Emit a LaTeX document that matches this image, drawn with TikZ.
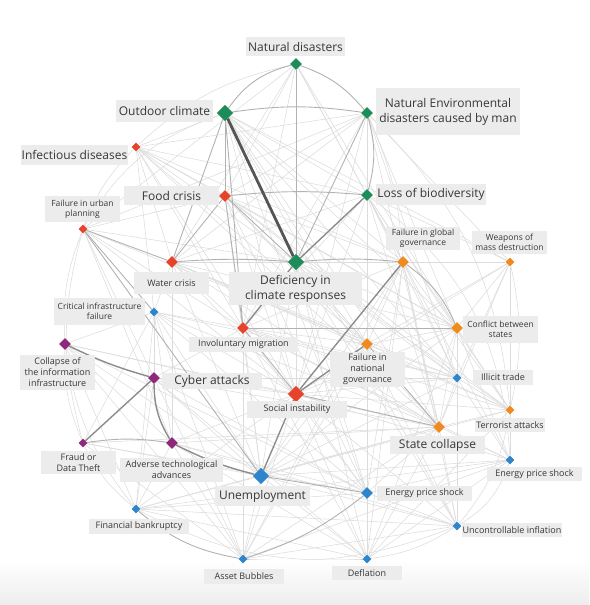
\documentclass[tikz,border=0pt]{standalone}
\usepackage{fontspec}
\setmainfont{Open Sans}
\usepackage{xcolor}
\usetikzlibrary{shapes.geometric}
\definecolor{rgreen}{RGB}{28,140,88}
\definecolor{rred}{RGB}{231,67,42}
\definecolor{rorange}{RGB}{239,138,30}
\definecolor{rblue}{RGB}{46,133,204}
\definecolor{rpurple}{RGB}{142,40,125}
\definecolor{tagbg}{RGB}{236,236,236}
\definecolor{tagtxt}{RGB}{55,55,55}
\definecolor{edgeA}{RGB}{220,220,220}
\definecolor{edgeB}{RGB}{178,178,178}
\definecolor{edgeC}{RGB}{140,140,140}
\definecolor{edgeD}{RGB}{85,85,85}
\pgfdeclarelayer{bg}
\pgfsetlayers{bg,main}

\begin{document}
\begin{tikzpicture}[x=1pt, y=-1pt,
  risk/.style={diamond, fill=#1, inner sep=0pt, aspect=1, minimum size=12pt},
  bigrisk/.style={minimum size=16.5pt}, smallrisk/.style={minimum size=9pt},
  tag/.style={fill=tagbg, text=tagtxt, inner sep=0pt, align=center},
  tagL/.style={tag, font=\fontsize{12}{15}\selectfont},
  tagM/.style={tag, font=\fontsize{9}{11}\selectfont},
  tagS/.style={tag, font=\fontsize{8.5}{10}\selectfont},
  lite/.style={draw=edgeA, line width=0.55pt},
  midline/.style={draw=edgeB, line width=0.9pt},
  firm/.style={draw=edgeC, line width=1.4pt},
  heavy/.style={draw=edgeD, line width=2.8pt}]
  \useasboundingbox (0,0) rectangle (589,605);
  \shade[top color=white, bottom color=black!7] (0,560) rectangle (589,605);

  \node[risk=rgreen] (nd) at (296,64) {};
  \node[risk=rgreen, bigrisk] (oc) at (225,113) {};
  \node[risk=rgreen] (ned) at (367,113) {};
  \node[risk=rred, smallrisk] (inf) at (136,147) {};
  \node[risk=rred] (food) at (225,196) {};
  \node[risk=rgreen] (lob) at (367,195) {};
  \node[risk=rred, smallrisk] (urb) at (83,229) {};
  \node[risk=rred] (wat) at (172,262) {};
  \node[risk=rgreen, bigrisk] (dcr) at (296,262) {};
  \node[risk=rorange] (fgg) at (403,262) {};
  \node[risk=rorange, smallrisk] (wmd) at (510,262) {};
  \node[risk=rblue, smallrisk] (cif) at (154,312) {};
  \node[risk=rred] (mig) at (243,328) {};
  \node[risk=rorange] (cbs) at (457,328) {};
  \node[risk=rorange] (fng) at (367,344) {};
  \node[risk=rpurple] (coll) at (65,344) {};
  \node[risk=rpurple] (cyb) at (154,378) {};
  \node[risk=rblue, smallrisk] (ill) at (457,378) {};
  \node[risk=rred, bigrisk] (soc) at (296,394) {};
  \node[risk=rorange, smallrisk] (ter) at (510,410) {};
  \node[risk=rorange] (sc) at (439,427) {};
  \node[risk=rpurple, smallrisk] (frd) at (83,443) {};
  \node[risk=rpurple] (adv) at (172,443) {};
  \node[risk=rblue, smallrisk] (epr) at (510,460) {};
  \node[risk=rblue, bigrisk] (unemp) at (261,476) {};
  \node[risk=rblue] (epc) at (367,493) {};
  \node[risk=rblue, smallrisk] (fin) at (136,509) {};
  \node[risk=rblue, smallrisk] (infl) at (457,526) {};
  \node[risk=rblue, smallrisk] (ab) at (243,559) {};
  \node[risk=rblue, smallrisk] (defl) at (367,559) {};

  \begin{pgfonlayer}{bg}
    \foreach \a/\b in {nd/food, nd/lob, nd/fgg, nd/wat, nd/mig, nd/soc, nd/cbs, nd/urb,
      oc/inf, oc/lob, oc/fgg, oc/soc, oc/cbs, oc/fng, oc/infl, oc/sc, oc/epc, oc/wmd, oc/ill,
      ned/food, ned/wat, ned/inf, ned/cbs, ned/mig, ned/soc, ned/fng, ned/urb, ned/wmd, ned/ill, ned/sc,
      inf/food, inf/wat, inf/dcr, inf/lob, inf/mig, inf/soc, inf/cif, inf/fgg, inf/fng, inf/cbs, inf/sc,
      food/urb, food/soc, food/fgg, food/unemp, food/cbs, food/fng, food/sc, food/epc, food/ill, food/ter,
      lob/wat, lob/fgg, lob/mig, lob/soc, lob/cbs, lob/wmd, lob/fng, lob/sc, lob/ter, lob/ill, lob/epr,
      urb/mig, urb/soc, urb/cyb, urb/dcr, urb/fng, urb/adv,
      wat/mig, wat/soc, wat/cif, wat/cbs, wat/fng, wat/sc, wat/fgg, wat/unemp, wat/adv, wat/ter, wat/ill,
      dcr/soc, dcr/fng, dcr/cbs, dcr/sc, dcr/unemp, dcr/epc, dcr/ill, dcr/ter, dcr/infl, dcr/defl,
      fgg/wmd, fgg/fng, fgg/ill, fgg/ter, fgg/sc, fgg/epc, fgg/mig, fgg/unemp, fgg/ab, fgg/infl, fgg/defl,
      wmd/cbs, wmd/ill, wmd/sc, wmd/fng, wmd/soc, wmd/epr,
      cif/cyb, cif/coll, cif/mig, cif/adv, cif/soc, cif/unemp, cif/epc, cif/fin, cif/frd, cif/sc, cif/ill, cif/ab,
      mig/fng, mig/unemp, mig/sc, mig/cyb, mig/epc, mig/ill, mig/ab, mig/ter, mig/epr, mig/defl,
      cbs/fng, cbs/ill, cbs/ter, cbs/sc, cbs/soc, cbs/epr, cbs/unemp, cbs/defl, cbs/infl,
      fng/unemp, fng/epc, fng/ill, fng/ter, fng/ab, fng/defl, fng/infl,
      coll/adv, coll/fin, coll/soc, coll/unemp, coll/ab, coll/epc, coll/sc,
      cyb/soc, cyb/unemp, cyb/fin, cyb/sc, cyb/epc, cyb/ab, cyb/ill, cyb/defl,
      ill/ter, ill/sc, ill/soc, ill/epr, ill/unemp,
      soc/epc, soc/ter, soc/adv, soc/ab, soc/defl, soc/infl, soc/fin, soc/epr,
      ter/sc, ter/unemp, ter/defl, sc/epc, sc/unemp, sc/epr, sc/infl, sc/defl, sc/ab,
      frd/unemp, frd/ab, frd/epc, frd/sc, adv/fin, adv/epc, adv/ab, adv/defl, adv/sc, adv/infl,
      epr/epc, epr/unemp, epr/defl, unemp/ab, unemp/fin, unemp/defl, unemp/infl,
      epc/defl, epc/infl, epc/fin, fin/defl, fin/infl, fin/sc, fin/epr, infl/ab, ab/epr}
      \draw[lite] (\a) -- (\b);
    \foreach \a/\b/\c in {inf/nd/15, urb/inf/12, coll/urb/12, frd/coll/12, fin/frd/12,
      infl/defl/12, epr/infl/20, wmd/ter/12, ned/fgg/10, oc/urb/-20, fin/coll/15,
      frd/urb/15, fin/defl/-15, ab/infl/-12, ter/infl/15, lob/epr/25, ned/ter/20}
      \draw[lite] (\a) to[bend left=\c] (\b);
    \foreach \a/\b in {oc/food, oc/mig, oc/wat, food/wat, food/mig, urb/wat, urb/cif, urb/unemp,
      nd/dcr, ned/dcr, fng/sc, soc/sc, mig/soc, unemp/epc, mig/cbs, dcr/food}
      \draw[midline] (\a) -- (\b);
    \foreach \a/\b/\c in {oc/nd/20, nd/ned/15, oc/ned/8, ned/lob/15, fgg/cbs/15,
      dcr/fgg/5, wat/dcr/4, food/lob/5, frd/adv/8, epc/ab/10, fin/ab/-15, ab/defl/-10}
      \draw[midline] (\a) to[bend left=\c] (\b);
    \foreach \a/\b in {cyb/frd, soc/unemp, soc/fgg, soc/fng, dcr/lob, dcr/mig}
      \draw[firm] (\a) -- (\b);
    \draw[firm] (coll) to[bend right=5] (cyb);
    \draw[firm] (cyb) to[bend right=15] (adv);
    \draw[firm] (adv) to[bend right=6] (unemp);
    \draw[heavy] (oc) -- (dcr);
  \end{pgfonlayer}

  \node[tagL, minimum width=99pt, minimum height=19pt] (nd-t) at (295.5,46.5) {Natural disasters};
  \node[tagL, minimum width=97pt, minimum height=22pt] (oc-t) at (164.5,111) {Outdoor climate};
  \node[tagL, minimum width=144pt, minimum height=47pt] (ned-t) at (448,111.5) {Natural Environmental\\disasters caused by man};
  \node[tagL, minimum width=107pt, minimum height=20pt] (inf-t) at (74.5,155) {Infectious diseases};
  \node[tagL, minimum width=95pt, minimum height=19pt] (food-t) at (171.5,195.5) {Food crisis};
  \node[tagL, minimum width=110pt, minimum height=21pt] (lob-t) at (431,194.5) {Loss of biodiversity};
  \node[tagS, minimum width=75pt, minimum height=26pt] (urb-t) at (82.5,209) {Failure in urban\\planning};
  \node[tagM, minimum width=75pt, minimum height=22pt] (wat-t) at (171.5,283) {Water crisis};
  \node[tagL, minimum width=133pt, minimum height=33pt] (dcr-t) at (295.5,288.5) {Deficiency in\\climate responses};
  \node[tagS, minimum width=74pt, minimum height=23pt] (fgg-t) at (423,238.5) {Failure in global\\governance};
  \node[tagS, minimum width=75pt, minimum height=23pt] (wmd-t) at (509.5,242.5) {Weapons of\\mass destruction};
  \node[tagS, minimum width=91pt, minimum height=27pt] (cif-t) at (99.5,311.5) {Critical infrastructure\\failure};
  \node[tagM, minimum width=109pt, minimum height=15pt] (mig-t) at (243.5,344.5) {Involuntary migration};
  \node[tagS, minimum width=75pt, minimum height=27pt] (cbs-t) at (500.5,329.5) {Conflict between\\states};
  \node[tagM, minimum width=75pt, minimum height=35pt] (fng-t) at (367.5,369.5) {Failure in\\national\\governance};
  \node[tagM, minimum width=75pt, minimum height=35pt] (coll-t) at (57.5,372.5) {Collapse of\\the information\\infrastructure};
  \node[tagL, minimum width=100pt, minimum height=16pt] (cyb-t) at (212,381) {Cyber attacks};
  \node[tagM, minimum width=60pt, minimum height=15pt] (ill-t) at (503,377.5) {Illicit trade};
  \node[tagM, minimum width=100pt, minimum height=17pt] (soc-t) at (297,409.5) {Social instability};
  \node[tagM, minimum width=70pt, minimum height=14pt] (ter-t) at (510,425) {Terrorist attacks};
  \node[tagL, minimum width=95pt, minimum height=18pt] (sc-t) at (437.5,445) {State collapse};
  \node[tagM, minimum width=75pt, minimum height=23pt] (frd-t) at (78.5,462.5) {Fraud or\\Data Theft};
  \node[tagM, minimum width=103pt, minimum height=24pt] (adv-t) at (171.5,470) {Adverse technological\\advances};
  \node[tagM, minimum width=95pt, minimum height=14pt] (epr-t) at (534.5,474) {Energy price shock};
  \node[tagL, minimum width=95pt, minimum height=20pt] (unemp-t) at (262.5,496) {Unemployment};
  \node[tagM, minimum width=95pt, minimum height=15pt] (epc-t) at (424.5,493.5) {Energy price shock};
  \node[tagM, minimum width=100pt, minimum height=15pt] (fin-t) at (139,526.5) {Financial bankruptcy};
  \node[tagM, minimum width=100pt, minimum height=14pt] (infl-t) at (512,530) {Uncontrollable inflation};
  \node[tagM, minimum width=80pt, minimum height=15pt] (ab-t) at (244,576.5) {Asset Bubbles};
  \node[tagM, minimum width=70pt, minimum height=14pt] (defl-t) at (367,573) {Deflation};
\end{tikzpicture}
\end{document}
